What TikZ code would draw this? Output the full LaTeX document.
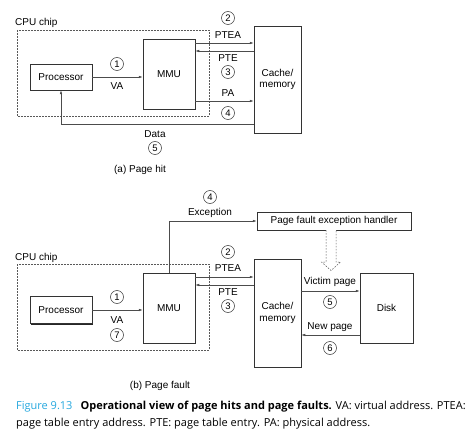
\documentclass[tikz,border=0pt]{standalone}
\usepackage{fontspec}
\setmainfont{Liberation Sans}
\newfontfamily\capfont{Open Sans}
\usetikzlibrary{arrows.meta,shadows}
\definecolor{figcyan}{RGB}{38,168,222}

\tikzset{
  unit/.style={draw=black!80, fill=white, line width=0.5pt, inner sep=0pt,
    drop shadow={shadow xshift=1.3pt, shadow yshift=-1.3pt, fill=black!85, opacity=1}},
  num/.style={circle, draw=black!80, line width=0.5pt, inner sep=0pt, minimum size=13pt,
    font=\fontsize{9.5}{9.5}\selectfont},
  lbl/.style={inner sep=0pt, font=\fontsize{10}{10}\selectfont},
  arr/.style={draw=black!70, line width=0.6pt, -{Latex[length=4pt,width=2.6pt]}},
  chip/.style={draw=black!65, line width=0.5pt, dash pattern=on 1.6pt off 1.4pt},
}

\begin{document}
\begin{tikzpicture}[x=1pt,y=-1pt,font=\fontsize{10}{11.5}\selectfont]
  \useasboundingbox (0,0) rectangle (474,441);

  % (a) page hit
  \node[lbl, anchor=west] (chipalbl) at (15,23) {CPU chip};
  \draw[chip] (17,30) rectangle (209,116);
  \node[unit, minimum width=62pt, minimum height=26pt] (proca) at (61,77) {Processor};
  \node[unit, minimum width=52pt, minimum height=70pt] (mmua) at (169,74) {MMU};
  \node[unit, minimum width=47pt, minimum height=107pt, align=center] (cachea) at (277.5,79.5) {Cache/\\memory};
  \coordinate (ptearow) at (0,43);
  \coordinate (pterow) at (0,51);
  \coordinate (parow) at (0,101);
  \coordinate (datarow) at (0,124);

  \draw[arr] (proca) -- (mmua.west |- proca);
  \draw[arr] (mmua.east |- ptearow) -- (cachea.west |- ptearow);
  \draw[arr] (cachea.west |- pterow) -- (mmua.east |- pterow);
  \draw[arr] (mmua.east |- parow) -- (cachea.west |- parow);
  \draw[arr] (cachea.west |- datarow) -| (proca.south);

  \node[num] (onea) at (117,64) {1};
  \node[lbl] (vaa) at (117,86) {VA};
  \node[num] (twoa) at (228,18) {2};
  \node[lbl] (pteaa) at (228,35) {PTEA};
  \node[lbl] (ptea) at (228,58) {PTE};
  \node[num] (threea) at (228,72) {3};
  \node[lbl] (paa) at (228,93) {PA};
  \node[num] (foura) at (228,113) {4};
  \node[lbl] (dataa) at (155,134) {Data};
  \node[num] (fivea) at (155,148) {5};
  \node[lbl] (capa) at (140,170) {(a) Page hit};

  % (b) page fault
  \node[lbl, anchor=west] (chipblbl) at (15,258) {CPU chip};
  \draw[chip] (17,264) rectangle (209,350);
  \node[unit, minimum width=62pt, minimum height=27pt] (procb) at (61,310) {Processor};
  \node[unit, minimum width=52pt, minimum height=70pt] (mmub) at (169,308) {MMU};
  \node[unit, minimum width=47pt, minimum height=108pt, align=center] (cacheb) at (277.5,313) {Cache/\\memory};
  \node[unit, minimum width=53pt, minimum height=70pt] (diskb) at (386.5,308) {Disk};
  \node[unit, minimum width=154pt, minimum height=18pt] (handb) at (334,221) {Page fault exception handler};
  \coordinate (ptearowb) at (0,277);
  \coordinate (pterowb) at (0,285);
  \coordinate (victimrow) at (0,291);
  \coordinate (newrow) at (0,335);

  \draw[arr] (procb) -- (mmub.west |- procb);
  \draw[arr] (mmub.east |- ptearowb) -- (cacheb.west |- ptearowb);
  \draw[arr] (cacheb.west |- pterowb) -- (mmub.east |- pterowb);
  \draw[arr] (cacheb.east |- victimrow) -- (diskb.west |- victimrow);
  \draw[arr] (diskb.west |- newrow) -- (cacheb.east |- newrow);
  \draw[arr] (mmub.north) |- (handb.west);
  \draw[chip, fill=white] (326,230) -- (326,262) -- (321.5,262) -- (331,270.5)
    -- (340.5,262) -- (336,262) -- (336,230);

  \node[num] (oneb) at (117,297) {1};
  \node[lbl] (vab) at (117,320) {VA};
  \node[num] (sevenb) at (117,335) {7};
  \node[num] (twob) at (228,252) {2};
  \node[lbl] (pteab) at (228,268) {PTEA};
  \node[lbl] (pteb) at (228,292) {PTE};
  \node[num] (threeb) at (228,306) {3};
  \node[num] (fourb) at (210,197) {4};
  \node[lbl] (excb) at (210,213) {Exception};
  \node[lbl] (victimb) at (330,282) {Victim page};
  \node[num] (fiveb) at (330,302) {5};
  \node[lbl] (newb) at (330,327) {New page};
  \node[num] (sixb) at (330,348) {6};
  \node[lbl] (capb) at (160,386) {(b) Page fault};

  % figure caption
  \node[anchor=north west, inner sep=0pt, align=left, font=\capfont\fontsize{11}{17}\selectfont] (figcap) at (16,400.5)
    {\textcolor{figcyan}{Figure 9.13}\hspace{8pt}\textbf{Operational view of page hits and page faults.} VA: virtual address. PTEA:\\
     page table entry address. PTE: page table entry. PA: physical address.};
\end{tikzpicture}
\end{document}
